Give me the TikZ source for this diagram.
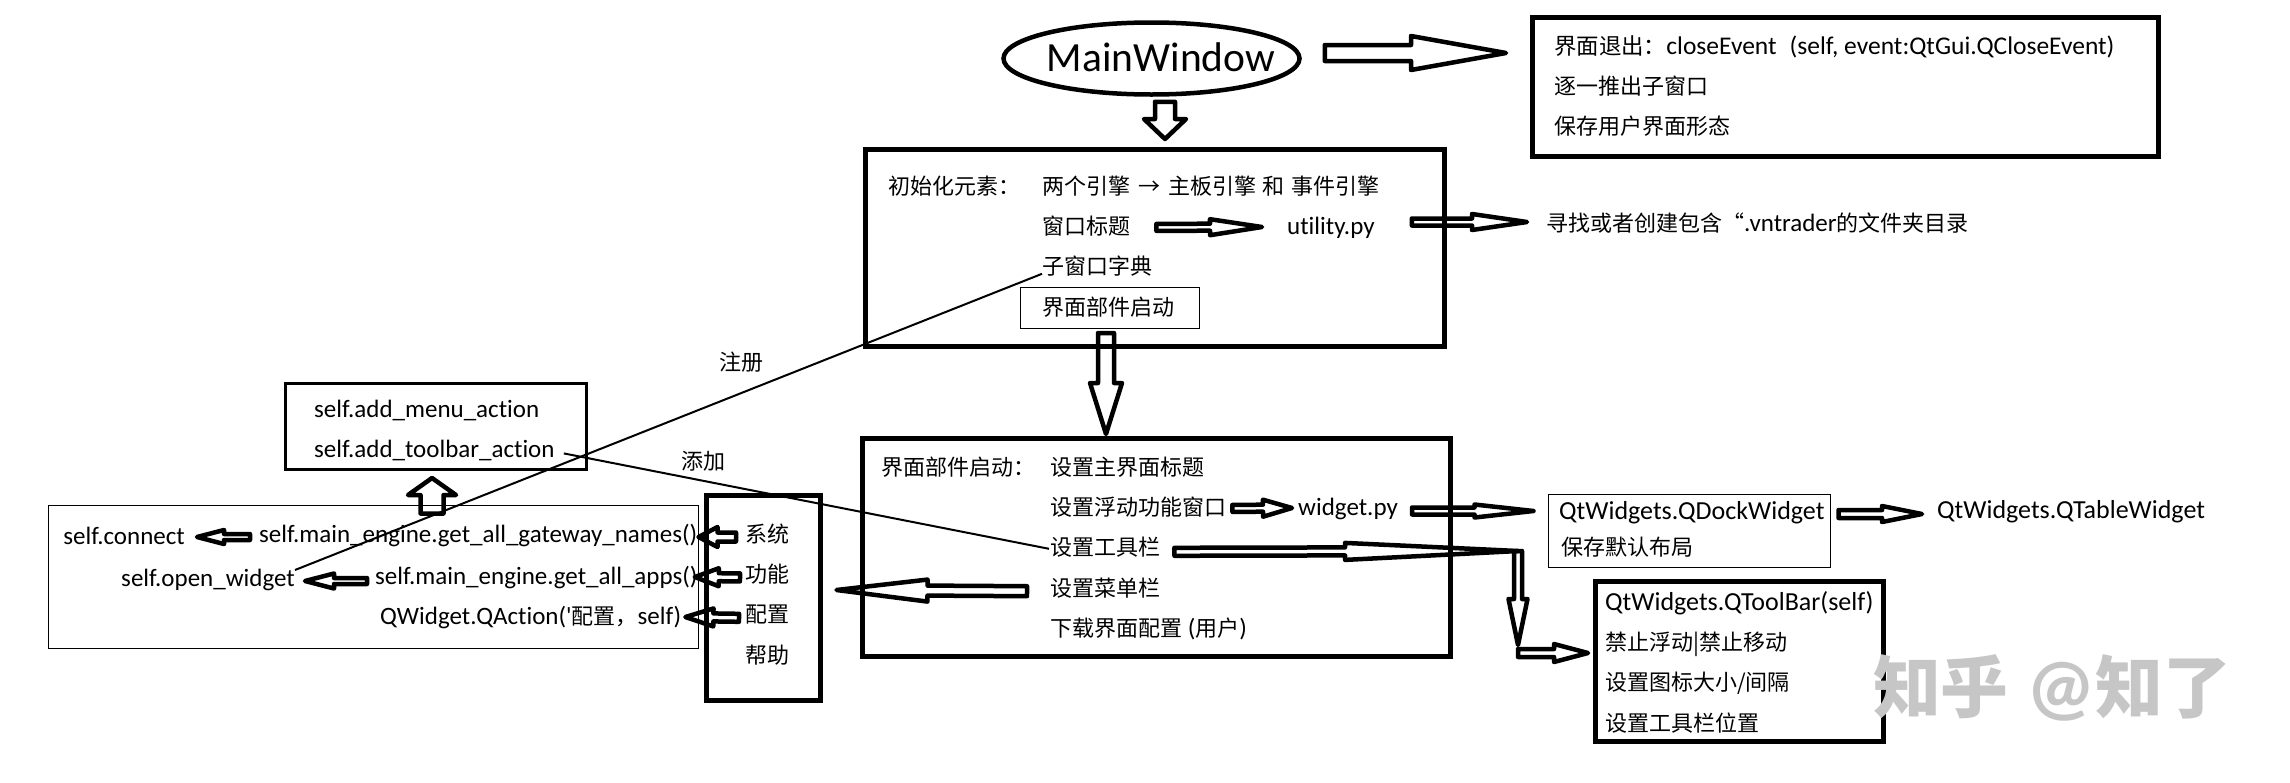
\documentclass[tikz,border=0pt]{standalone}
\usepackage{fontspec}
\usetikzlibrary{calc}
\usetikzlibrary{shapes.geometric}
\usetikzlibrary{positioning}
\setmainfont{Carlito}[Ligatures=NoCommon]
\newfontfamily\cjk[Scale=0.88]{Noto Sans CJK SC}
\newcommand{\zh}[1]{{\cjk #1}}
\tikzset{
  hollow/.style n args={3}{draw, line width=4.5pt, line join=round, to path={
    ($(\tikztostart)!#1!90:(\tikztotarget)$)
    -- ($($(\tikztotarget)!#3!(\tikztostart)$)!#1!90:(\tikztotarget)$)
    -- ($($(\tikztotarget)!#3!(\tikztostart)$)!#2!90:(\tikztotarget)$)
    -- (\tikztotarget)
    -- ($($(\tikztotarget)!#3!(\tikztostart)$)!#2!-90:(\tikztotarget)$)
    -- ($($(\tikztotarget)!#3!(\tikztostart)$)!#1!-90:(\tikztotarget)$)
    -- ($(\tikztostart)!#1!-90:(\tikztotarget)$) -- cycle}},
  item/.style={anchor=west, inner sep=0pt, text height=18pt, text depth=4pt},
  nextline/.style={below =of #1.south west, anchor=north west},
  qname/.style={font=\fontsize{26}{28}\selectfont},
  thickbox/.style={draw, line width=5pt, inner sep=0pt},
  midbox/.style={draw, line width=3pt, inner sep=0pt},
  thinbox/.style={draw, line width=1pt, inner sep=0pt},
  link/.style={draw, line width=2pt}
}

\begin{document}
\begin{tikzpicture}[x=1pt, y=-1pt, node distance=18pt, every node/.style={font=\fontsize{25}{28}\selectfont}]
\useasboundingbox (0,0) rectangle (2290,782);
\node (mainwin) [ellipse, draw, line width=4.5pt, inner sep=0pt, minimum width=296, minimum height=72] at (1151.5,58.5) {};
\node (maintext) [inner sep=0pt, font=\fontsize{41.5}{44}\selectfont] at (1161,57) {MainWindow};
\node (exitbox) [thickbox, minimum width=626, minimum height=139] at (1845.5,87) {};
\node (initbox) [thickbox, minimum width=579, minimum height=196.5] at (1155,247.75) {};
\node (startbox) [thinbox, minimum width=179, minimum height=41] at (1110,307.5) {};
\node (partsbox) [thickbox, minimum width=588, minimum height=218] at (1156.5,547.5) {};
\node (dockbox) [thinbox, minimum width=282, minimum height=73] at (1689,530.5) {};
\node (barbox) [thickbox, minimum width=288, minimum height=160] at (1739.5,661.5) {};
\node (actionbox) [midbox, minimum width=301, minimum height=86] at (436,426.5) {};
\node (linkbox) [thinbox, minimum width=650, minimum height=143] at (373,576.5) {};
\node (menubox) [thickbox, minimum width=114, minimum height=205] at (763,598) {};
\node (exitline) [item, font=\fontsize{25.5}{28}\selectfont] at (1554,47) {\zh{界面退出：}closeEvent\hspace{13pt}(self, event:QtGui.QCloseEvent)};
\node (popline) [item, nextline=exitline] {\zh{逐一推出子窗口}};
\node (saveline) [item, nextline=popline] {\zh{保存用户界面形态}};
\node (initlabel) [item] at (888,187) {\zh{初始化元素：}};
\node (engines) [item] at (1042,187) {\zh{两个引擎\hspace{3pt} → \hspace{3pt}主板引擎\hspace{2pt} 和 \hspace{2pt}事件引擎}};
\node (wintitle) [item, nextline=engines] {\zh{窗口标题}};
\node (utility) [item] at (1287,227) {utility.py};
\node (findnote) [item] at (1546,224) {\zh{寻找或者创建包含“}.vntrader\zh{的文件夹目录}};
\node (subwin) [item, nextline=wintitle] {\zh{子窗口字典}};
\node (starttext) [item, nextline=subwin] {\zh{界面部件启动}};
\node (partslabel) [item] at (881,468) {\zh{界面部件启动：}};
\node (settitle) [item] at (1050,468) {\zh{设置主界面标题}};
\node (floatwin) [item, nextline=settitle] {\zh{设置浮动功能窗口}};
\node (widget) [item] at (1298,508) {widget.py};
\node (toolbar) [item, nextline=floatwin] {\zh{设置工具栏}};
\node (menubar) [item, nextline=toolbar] {\zh{设置菜单栏}};
\node (loadconf) [item, nextline=menubar] {\zh{下载界面配置} (\zh{用户})};
\node (dockname) [item, qname] at (1559,512) {QtWidgets.QDockWidget};
\node (savedock) [item] at (1561,548) {\zh{保存默认布局}};
\node (tablename) [item, qname] at (1937,511) {QtWidgets.QTableWidget};
\node (barname) [item, qname] at (1605,603) {QtWidgets.QToolBar(self)};
\node (barfix) [item, nextline=barname] {\zh{禁止浮动|禁止移动}};
\node (barsize) [item, nextline=barfix] {\zh{设置图标大小/间隔}};
\node (barpos) [item, nextline=barsize] {\zh{设置工具栏位置}};
\node (addmenu) [item] at (314,410) {self.add\_menu\_action};
\node (addtool) [item, nextline=addmenu] {self.add\_toolbar\_action};
\node (connect) [item, anchor=east] at (185,537) {self.connect};
\node (openw) [item, anchor=east] at (295,579) {self.open\_widget};
\node (gateway) [item] at (259,535) {self.main\_engine.get\_all\_gateway\_names()};
\node (apps) [item] at (375,577) {self.main\_engine.get\_all\_apps()};
\node (qaction) [item] at (380,617) {QWidget.QAction(\textquotesingle\zh{配置，}self)};
\node (sysitem) [item] at (745,535) {\zh{系统}};
\node (funcitem) [item, nextline=sysitem] {\zh{功能}};
\node (confitem) [item, nextline=funcitem] {\zh{配置}};
\node (helpitem) [item, nextline=confitem] {\zh{帮助}};
\node (reglabel) [item] at (719,363) {\zh{注册}};
\node (addlabel) [item] at (681,462) {\zh{添加}};
\coordinate (barturn) at (1518,551);
\coordinate (bardrop) at (1518,653);
\draw[hollow={8pt}{17pt}{95pt}] ([shift={(23,-5.5)}]mainwin.east) to ([shift={(-24,-34)}]exitbox.west);
\draw[hollow={10pt}{21pt}{20pt}] ([shift={(13.5,5)}]mainwin.south) to ([shift={(10,-8)}]initbox.north);
\draw[hollow={3.5pt}{8pt}{52pt}] ([shift={(26,0)}]wintitle.east) to ([shift={(-25,0)}]utility.west);
\draw[hollow={3.5pt}{8pt}{55pt}] ([shift={(37,-5)}]utility.east) to ([shift={(-19,-2)}]findnote.west);
\draw[hollow={8pt}{16pt}{51pt}] ([shift={(-4,4.5)}]startbox.south) to ([shift={(-50.5,-2)}]partsbox.north);
\draw[hollow={3.5pt}{8.5pt}{29pt}] ([shift={(6,0)}]floatwin.east) to ([shift={(-6,0)}]widget.west);
\draw[hollow={3.5pt}{6.5pt}{59pt}] ([shift={(14,3)}]widget.east) to ([shift={(-14,-19.5)}]dockbox.west);
\draw[hollow={4pt}{8.5pt}{173pt}] ([shift={(14,3)}]toolbar.east) to (barturn);
\draw[hollow={4pt}{9.5pt}{46pt}] (barturn) to ([shift={(0,-8)}]bardrop);
\draw[hollow={4pt}{9pt}{34pt}] (bardrop) to ([shift={(-5,-8.5)}]barbox.west);
\draw[hollow={5pt}{11pt}{91pt}] ([shift={(-23,2)}]menubar.west) to ([shift={(14,-8)}]menubox.east);
\draw[hollow={4pt}{8pt}{40pt}] ([shift={(8,-16.5)}]dockbox.east) to ([shift={(-15,3)}]tablename.west);
\draw[hollow={11.5pt}{24pt}{17pt}] ([shift={(59,9)}]linkbox.north) to ([shift={(-4,7)}]actionbox.south);
\draw[hollow={3pt}{7pt}{27pt}] ([shift={(-9,2)}]gateway.west) to ([shift={(12,0)}]connect.east);
\draw[hollow={3pt}{7.5pt}{29pt}] ([shift={(-8,4)}]apps.west) to ([shift={(10,2)}]openw.east);
\draw[hollow={4.5pt}{10pt}{19pt}] ([shift={(-9,2)}]sysitem.west) to ([shift={(1,2)}]gateway.east);
\draw[hollow={4pt}{9pt}{24pt}] ([shift={(-5,2)}]funcitem.west) to ([shift={(-3,0)}]apps.east);
\draw[hollow={4pt}{9pt}{28pt}] ([shift={(-6,2)}]confitem.west) to ([shift={(4,0)}]qaction.east);
\draw[link] ([shift={(0,-9)}]openw.east) -- ([shift={(0,6)}]subwin.west);
\draw[link] ([shift={(9,3)}]addtool.east) -- ([shift={(-1,0)}]toolbar.west);
\node (mark) [gray!45, inner sep=0pt, font=\fontsize{77}{80}\selectfont\bfseries] at (2052,688) {\zh{知乎} @\zh{知了}};
\end{tikzpicture}
\end{document}
